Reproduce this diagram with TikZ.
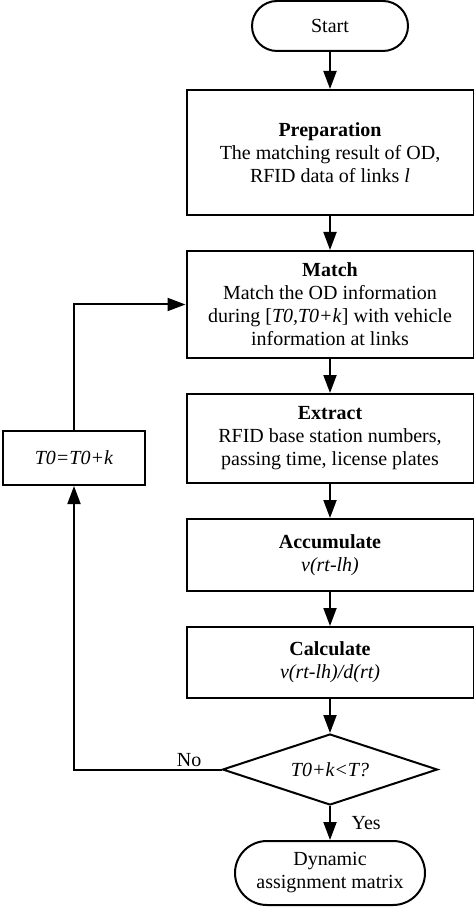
\documentclass[tikz,border=0pt]{standalone}
\usepackage{fontspec}
\setmainfont{Liberation Serif}
\usetikzlibrary{arrows.meta, positioning, shapes.geometric}

\begin{document}
\begin{tikzpicture}[every node/.style={align=center, font=\fontsize{10}{11.5}\selectfont}, line width=1pt, node distance=17pt,
        >={Triangle[length=9pt, width=6.5pt]},
        box/.style={draw, rectangle, minimum width=143.5pt, inner sep=2pt},
        term/.style={draw, rectangle, inner sep=1pt},
        decision/.style={draw, diamond, aspect=3, minimum width=107.5pt, minimum height=35.5pt, inner sep=0pt}]
        \useasboundingbox (0,0) rectangle (237pt,-454pt);
        \node[term, rounded corners=12.5pt, minimum width=78pt, minimum height=25pt] (start) at (165pt,-13pt) {Start};
        \node[box, minimum height=62.5pt, below=18.5pt of start] (prep) {\textbf{Preparation}\\The matching result of OD,\\RFID data of links \textit{l}};
        \node[box, minimum height=53.5pt, below=of prep] (match) {\textbf{Match}\\Match the OD information\\during [\textit{T0,T0+k}] with vehicle\\information at links};
        \node[box, minimum height=44.5pt, below=of match] (extract) {\textbf{Extract}\\RFID base station numbers,\\passing time, license plates};
        \node[box, minimum height=36pt, below=of extract] (accum) {\textbf{Accumulate}\\\textit{v(rt-lh)}};
        \node[box, minimum height=35.5pt, below=of accum] (calc) {\textbf{Calculate}\\\textit{v(rt-lh)/d(rt)}};
        \node[decision, below=of calc] (check) {\textit{T0+k<T?}};
        \node[term, rounded corners=16pt, minimum width=95pt, minimum height=32pt, below=of check] (finish) {Dynamic\\assignment matrix};
        \node[box, minimum width=71pt, minimum height=27pt] (update) at (37pt,-229pt) {\textit{T0=T0+k}};

        \draw[->] (start) -- (prep);
        \draw[->] (prep) -- (match);
        \draw[->] (match) -- (extract);
        \draw[->] (extract) -- (accum);
        \draw[->] (accum) -- (calc);
        \draw[->] (calc) -- (check);
        \draw[->] (check) -- node[right, xshift=7pt] {Yes} (finish);
        \draw[->] (check.west) -| node[pos=0.11, above, inner sep=1pt] {No} (update.south);
        \draw[->] (update.north) |- (match.west);
      \end{tikzpicture}
\end{document}
